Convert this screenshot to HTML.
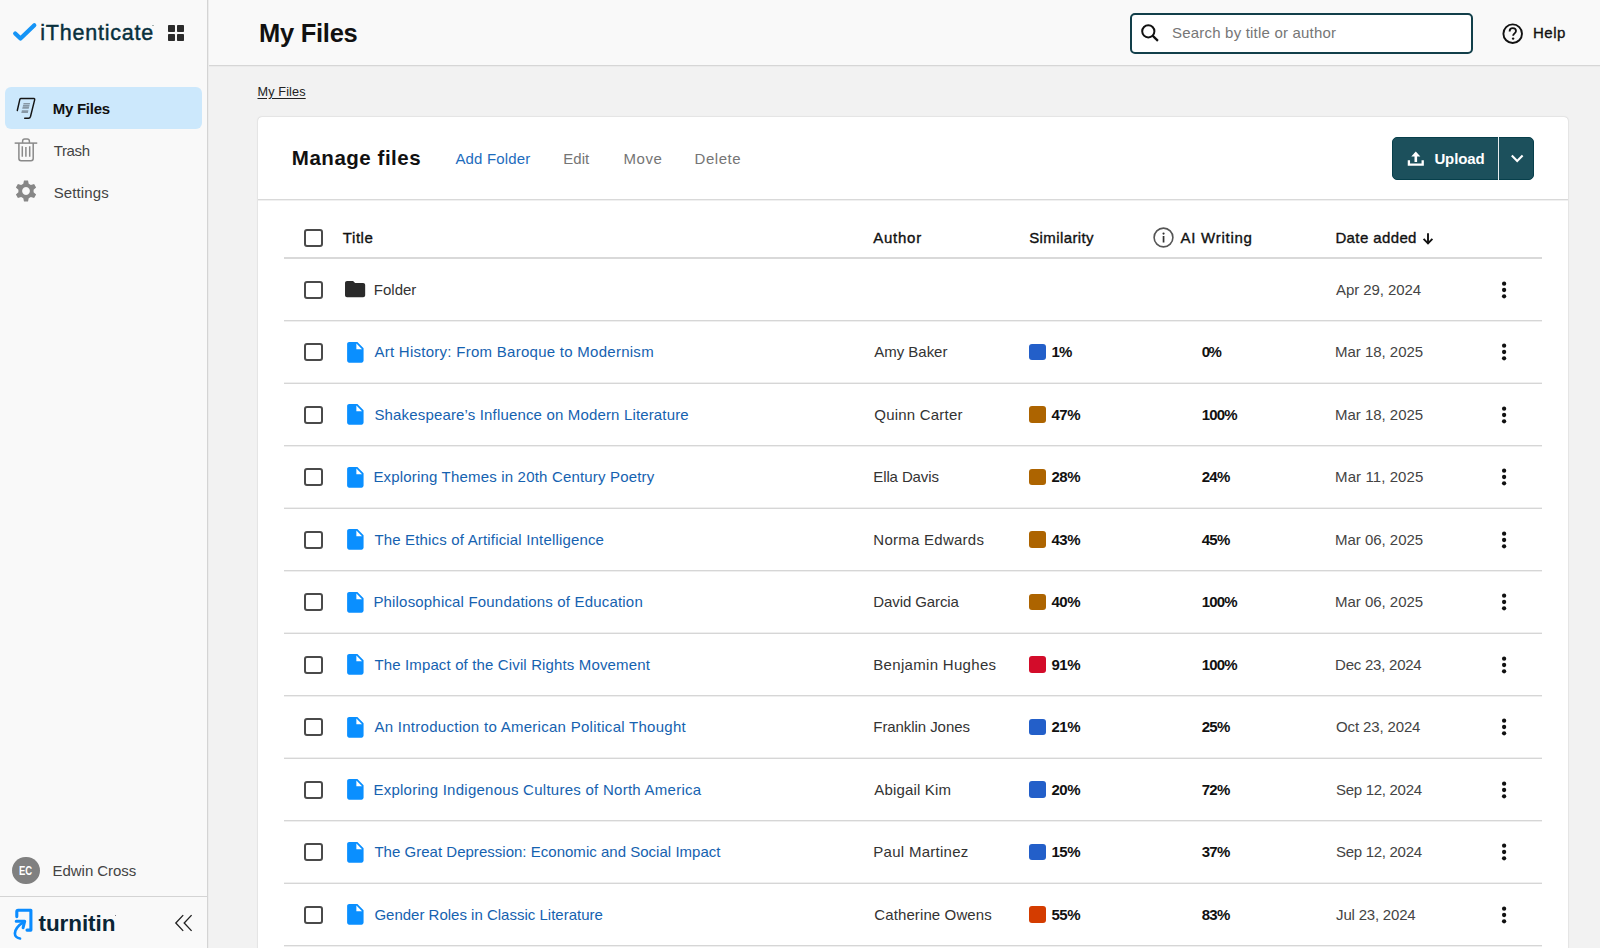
<!DOCTYPE html>
<html><head><meta charset="utf-8"><title>My Files</title>
<style>
html,body{margin:0;padding:0;}
body{width:1600px;height:948px;overflow:hidden;position:relative;background:#f2f2f2;font-family:"Liberation Sans",sans-serif;}
.t{position:absolute;white-space:nowrap;font-family:"Liberation Sans",sans-serif;}
</style></head><body>
<div style="position:absolute;left:0px;top:0px;width:207px;height:948px;background:#f9f9f9;"></div>
<div style="position:absolute;left:207px;top:0px;width:1px;height:948px;background:#d4d4d4;"></div>
<div style="position:absolute;left:208px;top:0px;width:1px;height:948px;background:#ececec;"></div>
<div style="position:absolute;left:209px;top:0px;width:1391px;height:65px;background:#f9f9f9;"></div>
<div style="position:absolute;left:209px;top:65px;width:1391px;height:1px;background:#d6d6d6;"></div>
<div style="position:absolute;left:209px;top:66px;width:1391px;height:1px;background:#ebebeb;"></div>
<div style="position:absolute;left:5px;top:87px;width:197px;height:42px;background:#cce8fc;border-radius:6px;"></div>
<div style="position:absolute;left:0px;top:896px;width:207px;height:1px;background:#d4d4d4;"></div>
<div style="position:absolute;left:258px;top:117px;width:1310px;height:900px;background:#fff;border-radius:4px;box-shadow:0 0 1.5px rgba(0,0,0,0.28);"></div>
<div style="position:absolute;left:258px;top:199px;width:1310px;height:1px;background:#d9d9d9;"></div>
<div style="position:absolute;left:258px;top:200px;width:1310px;height:1px;background:#f0f0f0;"></div>
<div style="position:absolute;left:284px;top:257px;width:1258px;height:2px;background:#d9d9d9;"></div>
<div style="position:absolute;left:284px;top:320px;width:1258px;height:1px;background:#d6d6d6;"></div>
<div style="position:absolute;left:284px;top:321px;width:1258px;height:1px;background:#efefef;"></div>
<div style="position:absolute;left:284px;top:383px;width:1258px;height:1px;background:#d6d6d6;"></div>
<div style="position:absolute;left:284px;top:382px;width:1258px;height:1px;background:#efefef;"></div>
<div style="position:absolute;left:284px;top:445px;width:1258px;height:1px;background:#d6d6d6;"></div>
<div style="position:absolute;left:284px;top:446px;width:1258px;height:1px;background:#efefef;"></div>
<div style="position:absolute;left:284px;top:508px;width:1258px;height:1px;background:#d6d6d6;"></div>
<div style="position:absolute;left:284px;top:507px;width:1258px;height:1px;background:#efefef;"></div>
<div style="position:absolute;left:284px;top:570px;width:1258px;height:1px;background:#d6d6d6;"></div>
<div style="position:absolute;left:284px;top:571px;width:1258px;height:1px;background:#efefef;"></div>
<div style="position:absolute;left:284px;top:633px;width:1258px;height:1px;background:#d6d6d6;"></div>
<div style="position:absolute;left:284px;top:632px;width:1258px;height:1px;background:#efefef;"></div>
<div style="position:absolute;left:284px;top:695px;width:1258px;height:1px;background:#d6d6d6;"></div>
<div style="position:absolute;left:284px;top:696px;width:1258px;height:1px;background:#efefef;"></div>
<div style="position:absolute;left:284px;top:758px;width:1258px;height:1px;background:#d6d6d6;"></div>
<div style="position:absolute;left:284px;top:757px;width:1258px;height:1px;background:#efefef;"></div>
<div style="position:absolute;left:284px;top:820px;width:1258px;height:1px;background:#d6d6d6;"></div>
<div style="position:absolute;left:284px;top:821px;width:1258px;height:1px;background:#efefef;"></div>
<div style="position:absolute;left:284px;top:883px;width:1258px;height:1px;background:#d6d6d6;"></div>
<div style="position:absolute;left:284px;top:882px;width:1258px;height:1px;background:#efefef;"></div>
<div style="position:absolute;left:284px;top:945px;width:1258px;height:1px;background:#d6d6d6;"></div>
<div style="position:absolute;left:284px;top:946px;width:1258px;height:1px;background:#efefef;"></div>
<div style="position:absolute;left:1130.2px;top:12.8px;width:343.3px;height:41px;box-sizing:border-box;border:2px solid #123f4a;border-radius:5px;background:#fff;"></div>
<div style="position:absolute;left:1392px;top:136.5px;width:142px;height:43.5px;box-sizing:border-box;background:#1c505c;border:1px solid #073f4b;border-radius:5px;"></div>
<div style="position:absolute;left:1497.5px;top:136.5px;width:1.2px;height:43.5px;background:#e8eef0;"></div>
<div style="position:absolute;left:304.4px;top:228.5px;width:18.3px;height:18.3px;box-sizing:border-box;border:2px solid #4a4a4a;border-radius:3px;background:#fff;"></div>
<div style="position:absolute;left:304.4px;top:280.5px;width:18.3px;height:18.3px;box-sizing:border-box;border:2px solid #4a4a4a;border-radius:3px;background:#fff;"></div>
<div style="position:absolute;left:304.4px;top:343px;width:18.3px;height:18.3px;box-sizing:border-box;border:2px solid #4a4a4a;border-radius:3px;background:#fff;"></div>
<div style="position:absolute;left:304.4px;top:405.5px;width:18.3px;height:18.3px;box-sizing:border-box;border:2px solid #4a4a4a;border-radius:3px;background:#fff;"></div>
<div style="position:absolute;left:304.4px;top:468px;width:18.3px;height:18.3px;box-sizing:border-box;border:2px solid #4a4a4a;border-radius:3px;background:#fff;"></div>
<div style="position:absolute;left:304.4px;top:530.5px;width:18.3px;height:18.3px;box-sizing:border-box;border:2px solid #4a4a4a;border-radius:3px;background:#fff;"></div>
<div style="position:absolute;left:304.4px;top:593px;width:18.3px;height:18.3px;box-sizing:border-box;border:2px solid #4a4a4a;border-radius:3px;background:#fff;"></div>
<div style="position:absolute;left:304.4px;top:655.5px;width:18.3px;height:18.3px;box-sizing:border-box;border:2px solid #4a4a4a;border-radius:3px;background:#fff;"></div>
<div style="position:absolute;left:304.4px;top:718px;width:18.3px;height:18.3px;box-sizing:border-box;border:2px solid #4a4a4a;border-radius:3px;background:#fff;"></div>
<div style="position:absolute;left:304.4px;top:780.5px;width:18.3px;height:18.3px;box-sizing:border-box;border:2px solid #4a4a4a;border-radius:3px;background:#fff;"></div>
<div style="position:absolute;left:304.4px;top:843px;width:18.3px;height:18.3px;box-sizing:border-box;border:2px solid #4a4a4a;border-radius:3px;background:#fff;"></div>
<div style="position:absolute;left:304.4px;top:905.5px;width:18.3px;height:18.3px;box-sizing:border-box;border:2px solid #4a4a4a;border-radius:3px;background:#fff;"></div>
<div style="position:absolute;left:1029.2px;top:343.9px;width:16.6px;height:16.6px;background:#235fc9;border-radius:3px;"></div>
<div style="position:absolute;left:1029.2px;top:406.4px;width:16.6px;height:16.6px;background:#ad6400;border-radius:3px;"></div>
<div style="position:absolute;left:1029.2px;top:468.9px;width:16.6px;height:16.6px;background:#ad6400;border-radius:3px;"></div>
<div style="position:absolute;left:1029.2px;top:531.4px;width:16.6px;height:16.6px;background:#ad6400;border-radius:3px;"></div>
<div style="position:absolute;left:1029.2px;top:593.9px;width:16.6px;height:16.6px;background:#ad6400;border-radius:3px;"></div>
<div style="position:absolute;left:1029.2px;top:656.4px;width:16.6px;height:16.6px;background:#d30c2a;border-radius:3px;"></div>
<div style="position:absolute;left:1029.2px;top:718.9px;width:16.6px;height:16.6px;background:#235fc9;border-radius:3px;"></div>
<div style="position:absolute;left:1029.2px;top:781.4px;width:16.6px;height:16.6px;background:#235fc9;border-radius:3px;"></div>
<div style="position:absolute;left:1029.2px;top:843.9px;width:16.6px;height:16.6px;background:#235fc9;border-radius:3px;"></div>
<div style="position:absolute;left:1029.2px;top:906.4px;width:16.6px;height:16.6px;background:#d43c00;border-radius:3px;"></div>
<svg style="position:absolute;left:1494px;top:277.8px" width="20" height="24" viewBox="0 0 20 24"><circle cx="10.1" cy="5.7" r="2.15" fill="#111"/><circle cx="10.1" cy="12" r="2.15" fill="#111"/><circle cx="10.1" cy="18.3" r="2.15" fill="#111"/></svg>
<svg style="position:absolute;left:1494px;top:340.3px" width="20" height="24" viewBox="0 0 20 24"><circle cx="10.1" cy="5.7" r="2.15" fill="#111"/><circle cx="10.1" cy="12" r="2.15" fill="#111"/><circle cx="10.1" cy="18.3" r="2.15" fill="#111"/></svg>
<svg style="position:absolute;left:1494px;top:402.8px" width="20" height="24" viewBox="0 0 20 24"><circle cx="10.1" cy="5.7" r="2.15" fill="#111"/><circle cx="10.1" cy="12" r="2.15" fill="#111"/><circle cx="10.1" cy="18.3" r="2.15" fill="#111"/></svg>
<svg style="position:absolute;left:1494px;top:465.3px" width="20" height="24" viewBox="0 0 20 24"><circle cx="10.1" cy="5.7" r="2.15" fill="#111"/><circle cx="10.1" cy="12" r="2.15" fill="#111"/><circle cx="10.1" cy="18.3" r="2.15" fill="#111"/></svg>
<svg style="position:absolute;left:1494px;top:527.8px" width="20" height="24" viewBox="0 0 20 24"><circle cx="10.1" cy="5.7" r="2.15" fill="#111"/><circle cx="10.1" cy="12" r="2.15" fill="#111"/><circle cx="10.1" cy="18.3" r="2.15" fill="#111"/></svg>
<svg style="position:absolute;left:1494px;top:590.3px" width="20" height="24" viewBox="0 0 20 24"><circle cx="10.1" cy="5.7" r="2.15" fill="#111"/><circle cx="10.1" cy="12" r="2.15" fill="#111"/><circle cx="10.1" cy="18.3" r="2.15" fill="#111"/></svg>
<svg style="position:absolute;left:1494px;top:652.8px" width="20" height="24" viewBox="0 0 20 24"><circle cx="10.1" cy="5.7" r="2.15" fill="#111"/><circle cx="10.1" cy="12" r="2.15" fill="#111"/><circle cx="10.1" cy="18.3" r="2.15" fill="#111"/></svg>
<svg style="position:absolute;left:1494px;top:715.3px" width="20" height="24" viewBox="0 0 20 24"><circle cx="10.1" cy="5.7" r="2.15" fill="#111"/><circle cx="10.1" cy="12" r="2.15" fill="#111"/><circle cx="10.1" cy="18.3" r="2.15" fill="#111"/></svg>
<svg style="position:absolute;left:1494px;top:777.8px" width="20" height="24" viewBox="0 0 20 24"><circle cx="10.1" cy="5.7" r="2.15" fill="#111"/><circle cx="10.1" cy="12" r="2.15" fill="#111"/><circle cx="10.1" cy="18.3" r="2.15" fill="#111"/></svg>
<svg style="position:absolute;left:1494px;top:840.3px" width="20" height="24" viewBox="0 0 20 24"><circle cx="10.1" cy="5.7" r="2.15" fill="#111"/><circle cx="10.1" cy="12" r="2.15" fill="#111"/><circle cx="10.1" cy="18.3" r="2.15" fill="#111"/></svg>
<svg style="position:absolute;left:1494px;top:902.8px" width="20" height="24" viewBox="0 0 20 24"><circle cx="10.1" cy="5.7" r="2.15" fill="#111"/><circle cx="10.1" cy="12" r="2.15" fill="#111"/><circle cx="10.1" cy="18.3" r="2.15" fill="#111"/></svg>
<svg style="position:absolute;left:342.88px;top:339.69px" width="24.7" height="24.7" viewBox="0 0 24 24"><path fill="#0a8fff" d="M6 2c-1.1 0-1.99.9-1.99 2L4 20c0 1.1.89 2 1.99 2H18c1.1 0 2-.9 2-2V8l-6-6H6zm7 7V3.5L18.5 9H13z"/></svg>
<svg style="position:absolute;left:342.88px;top:402.19px" width="24.7" height="24.7" viewBox="0 0 24 24"><path fill="#0a8fff" d="M6 2c-1.1 0-1.99.9-1.99 2L4 20c0 1.1.89 2 1.99 2H18c1.1 0 2-.9 2-2V8l-6-6H6zm7 7V3.5L18.5 9H13z"/></svg>
<svg style="position:absolute;left:342.88px;top:464.69px" width="24.7" height="24.7" viewBox="0 0 24 24"><path fill="#0a8fff" d="M6 2c-1.1 0-1.99.9-1.99 2L4 20c0 1.1.89 2 1.99 2H18c1.1 0 2-.9 2-2V8l-6-6H6zm7 7V3.5L18.5 9H13z"/></svg>
<svg style="position:absolute;left:342.88px;top:527.19px" width="24.7" height="24.7" viewBox="0 0 24 24"><path fill="#0a8fff" d="M6 2c-1.1 0-1.99.9-1.99 2L4 20c0 1.1.89 2 1.99 2H18c1.1 0 2-.9 2-2V8l-6-6H6zm7 7V3.5L18.5 9H13z"/></svg>
<svg style="position:absolute;left:342.88px;top:589.69px" width="24.7" height="24.7" viewBox="0 0 24 24"><path fill="#0a8fff" d="M6 2c-1.1 0-1.99.9-1.99 2L4 20c0 1.1.89 2 1.99 2H18c1.1 0 2-.9 2-2V8l-6-6H6zm7 7V3.5L18.5 9H13z"/></svg>
<svg style="position:absolute;left:342.88px;top:652.19px" width="24.7" height="24.7" viewBox="0 0 24 24"><path fill="#0a8fff" d="M6 2c-1.1 0-1.99.9-1.99 2L4 20c0 1.1.89 2 1.99 2H18c1.1 0 2-.9 2-2V8l-6-6H6zm7 7V3.5L18.5 9H13z"/></svg>
<svg style="position:absolute;left:342.88px;top:714.69px" width="24.7" height="24.7" viewBox="0 0 24 24"><path fill="#0a8fff" d="M6 2c-1.1 0-1.99.9-1.99 2L4 20c0 1.1.89 2 1.99 2H18c1.1 0 2-.9 2-2V8l-6-6H6zm7 7V3.5L18.5 9H13z"/></svg>
<svg style="position:absolute;left:342.88px;top:777.19px" width="24.7" height="24.7" viewBox="0 0 24 24"><path fill="#0a8fff" d="M6 2c-1.1 0-1.99.9-1.99 2L4 20c0 1.1.89 2 1.99 2H18c1.1 0 2-.9 2-2V8l-6-6H6zm7 7V3.5L18.5 9H13z"/></svg>
<svg style="position:absolute;left:342.88px;top:839.69px" width="24.7" height="24.7" viewBox="0 0 24 24"><path fill="#0a8fff" d="M6 2c-1.1 0-1.99.9-1.99 2L4 20c0 1.1.89 2 1.99 2H18c1.1 0 2-.9 2-2V8l-6-6H6zm7 7V3.5L18.5 9H13z"/></svg>
<svg style="position:absolute;left:342.88px;top:902.19px" width="24.7" height="24.7" viewBox="0 0 24 24"><path fill="#0a8fff" d="M6 2c-1.1 0-1.99.9-1.99 2L4 20c0 1.1.89 2 1.99 2H18c1.1 0 2-.9 2-2V8l-6-6H6zm7 7V3.5L18.5 9H13z"/></svg>
<svg style="position:absolute;left:342.98px;top:277.46px" width="24.2" height="24.2" viewBox="0 0 24 24"><path fill="#2a2a2a" d="M10 4H4c-1.1 0-1.99.9-1.99 2L2 18c0 1.1.9 2 2 2h16c1.1 0 2-.9 2-2V8c0-1.1-.9-2-2-2h-8l-2-2z"/></svg>
<svg style="position:absolute;left:1152.9px;top:227.3px" width="21" height="21" viewBox="0 0 21 21"><circle cx="10.5" cy="10.5" r="9.4" fill="none" stroke="#555" stroke-width="1.6"/><rect x="9.7" y="9" width="1.7" height="6.5" fill="#333"/><circle cx="10.55" cy="6.6" r="1.1" fill="#333"/></svg>
<svg style="position:absolute;left:1422px;top:231.5px" width="12" height="13" viewBox="0 0 12 13"><path d="M6 1.2V11" stroke="#111" stroke-width="1.9" fill="none"/><path d="M1.6 6.8L6 11.3L10.4 6.8" stroke="#111" stroke-width="1.9" fill="none"/></svg>
<svg style="position:absolute;left:1140px;top:23px" width="21" height="21" viewBox="0 0 21 21"><circle cx="8.3" cy="8.3" r="6.1" fill="none" stroke="#111" stroke-width="2"/><path d="M12.6 12.6L17.9 17.9" stroke="#111" stroke-width="2.2" stroke-linecap="butt"/></svg>
<svg style="position:absolute;left:1502px;top:22.5px" width="22" height="22" viewBox="0 0 22 22"><circle cx="10.7" cy="10.7" r="9.3" fill="none" stroke="#111" stroke-width="1.9"/><path d="M7.6 8.4c0-2 1.4-3.2 3.2-3.2s3.2 1.2 3.2 2.9c0 2.2-2.9 2.3-2.9 4.6" fill="none" stroke="#111" stroke-width="1.8"/><circle cx="11.1" cy="15.6" r="1.2" fill="#111"/></svg>
<svg style="position:absolute;left:1407px;top:148.5px" width="18" height="18" viewBox="0 0 18 18"><path d="M8.8 13V4" stroke="#fff" stroke-width="2.6" fill="none"/><path d="M4.3 7.6L8.8 2.4L13.3 7.6Z" fill="#fff"/><path d="M1.9 11.3V15.6H15.7V11.3" stroke="#fff" stroke-width="2.3" fill="none"/></svg>
<svg style="position:absolute;left:1509.5px;top:153px" width="15" height="11" viewBox="0 0 15 11"><path d="M1.8 2.5L7.2 8L12.6 2.5" stroke="#fff" stroke-width="2.1" fill="none"/></svg>
<svg style="position:absolute;left:12px;top:22px" width="26" height="21" viewBox="0 0 26 21"><path d="M3.2 11.4L8.5 16.6L22.3 3.2" stroke="#1594f6" stroke-width="4.2" fill="none" stroke-linecap="round" stroke-linejoin="round"/></svg>
<div style="position:absolute;left:152.4px;top:24.6px;width:1.6px;height:1.6px;background:#9aa;border-radius:50%;"></div>
<div style="position:absolute;left:168px;top:25.2px;width:7.3px;height:7.3px;background:#2b2b2b;border-radius:0.8px;"></div>
<div style="position:absolute;left:168px;top:34px;width:7.3px;height:7.3px;background:#2b2b2b;border-radius:0.8px;"></div>
<div style="position:absolute;left:176.8px;top:25.2px;width:7.3px;height:7.3px;background:#2b2b2b;border-radius:0.8px;"></div>
<div style="position:absolute;left:176.8px;top:34px;width:7.3px;height:7.3px;background:#2b2b2b;border-radius:0.8px;"></div>
<svg style="position:absolute;left:12px;top:94px" width="30" height="28" viewBox="0 0 30 28"><path d="M5.3 16.5L7.9 5.2Q8.2 4.4 9 4.4L22 4.4Q22.9 4.6 22.7 5.6L18.5 22.5Q18 24.2 16.5 24.2L12.7 24.2" stroke="#151515" stroke-width="1.45" fill="none" stroke-linecap="round" stroke-linejoin="round"/><path d="M11.6 8.9H18.1L17.7 10.6H11.2Z M11.1 11H17.6L17.2 12.7H10.7Z M10.6 13.1H17.1L16.7 14.8H10.2Z M9.9 16.3H16.4L15.9 18.9H9.3Z" fill="#8798a6"/></svg>
<svg style="position:absolute;left:12px;top:136px" width="28" height="28" viewBox="0 0 28 28"><path d="M2.66 7.1H25.25" stroke="#8a8a8a" stroke-width="1.5"/><path d="M10.6 7.1V5.3Q10.6 3.1 12.8 3.1H15.2Q17.4 3.1 17.4 5.3V7.1" stroke="#8a8a8a" stroke-width="1.5" fill="none"/><path d="M6.9 7.1V22.6Q6.9 24.8 9.1 24.8H19Q21.2 24.8 21.2 22.6V7.1" stroke="#8a8a8a" stroke-width="1.5" fill="none"/><path d="M10.3 10.2V20.8M13.9 10.9V20.8M17.7 10.2V20.8" stroke="#8a8a8a" stroke-width="1.5"/></svg>
<svg style="position:absolute;left:12px;top:177.3px" width="28" height="28" viewBox="0 0 28 28"><path fill-rule="evenodd" fill="#878787" d="M11.29 6.79 L11.98 3.49 L16.02 3.49 L16.71 6.79 L18.88 8.05 L22.09 7.00 L24.11 10.50 L21.60 12.75 L21.60 15.25 L24.11 17.50 L22.09 21.00 L18.88 19.95 L16.71 21.21 L16.02 24.51 L11.98 24.51 L11.29 21.21 L9.12 19.95 L5.91 21.00 L3.89 17.50 L6.40 15.25 L6.40 12.75 L3.89 10.50 L5.91 7.00 L9.12 8.05Z M14 10.1a3.9 3.9 0 1 0 0.001 0Z"/></svg>
<div style="position:absolute;left:12.4px;top:856.6px;width:27.2px;height:27.2px;background:#808080;border-radius:50%;"></div>
<svg style="position:absolute;left:10px;top:905px" width="30" height="40" viewBox="0 0 30 40"><path d="M6.8 11.6V6.6Q6.8 5.2 8.2 5.2H20.9V25.1H17" stroke="#0b8cff" stroke-width="3.1" fill="none" stroke-linecap="round" stroke-linejoin="round"/><path d="M6.2 16.2H14.7L13.1 22.7" stroke="#0b8cff" stroke-width="3" fill="none" stroke-linecap="round" stroke-linejoin="round"/><path d="M13.9 16.9C8.6 20.2 5.1 24.5 4.9 28.4C4.8 31.2 7.2 33.2 10 33.5" stroke="#0b8cff" stroke-width="2.7" fill="none" stroke-linecap="round"/></svg>
<div style="position:absolute;left:114.5px;top:914.5px;width:1.3px;height:1.3px;background:#556;border-radius:50%;"></div>
<svg style="position:absolute;left:174px;top:913px" width="20" height="20" viewBox="0 0 20 20"><path d="M9.2 2.1L1.8 10L9.2 17.9M17.6 2.1L10.2 10L17.6 17.9" stroke="#222" stroke-width="1.35" fill="none"/></svg>
<div class="t" style="left:40.2px;top:23.3px;font-size:21.5px;line-height:21.5px;font-weight:400;color:#08303d;letter-spacing:0.79px;-webkit-text-stroke:0.45px #08303d;">iThenticate</div>
<div class="t" style="left:52.7px;top:101px;font-size:15px;line-height:15px;font-weight:700;color:#111;letter-spacing:-0.25px;">My Files</div>
<div class="t" style="left:53.7px;top:143px;font-size:15px;line-height:15px;font-weight:400;color:#444;letter-spacing:-0.34px;">Trash</div>
<div class="t" style="left:53.7px;top:184.6px;font-size:15px;line-height:15px;font-weight:400;color:#444;letter-spacing:0.11px;">Settings</div>
<div class="t" style="left:18.6px;top:863.5px;font-size:13px;line-height:13px;font-weight:700;color:#fff;transform:scaleX(0.7284);transform-origin:0 0;">EC</div>
<div class="t" style="left:52.6px;top:863.1px;font-size:15px;line-height:15px;font-weight:400;color:#444;letter-spacing:-0.05px;">Edwin Cross</div>
<div class="t" style="left:38.5px;top:913.3px;font-size:22.5px;line-height:22.5px;font-weight:700;color:#0a2535;letter-spacing:-0.08px;">turnitin</div>
<div class="t" style="left:259px;top:20.5px;font-size:25.5px;line-height:25.5px;font-weight:700;color:#111;letter-spacing:-0.26px;">My Files</div>
<div class="t" style="left:1172px;top:25.3px;font-size:15px;line-height:15px;font-weight:400;color:#767676;letter-spacing:0.2px;">Search by title or author</div>
<div class="t" style="left:1533px;top:25px;font-size:15px;line-height:15px;font-weight:400;color:#111;letter-spacing:0.5px;-webkit-text-stroke:0.35px #111;">Help</div>
<div class="t" style="left:257.5px;top:85.5px;font-size:12.7px;line-height:12.7px;font-weight:400;color:#222;letter-spacing:0.12px;text-decoration:underline;text-underline-offset:2px;">My Files</div>
<div class="t" style="left:291.8px;top:148.2px;font-size:20.5px;line-height:20.5px;font-weight:700;color:#111;letter-spacing:0.53px;">Manage files</div>
<div class="t" style="left:455.4px;top:150.6px;font-size:15px;line-height:15px;font-weight:400;color:#1d6cbd;letter-spacing:0.16px;">Add Folder</div>
<div class="t" style="left:563.3px;top:150.7px;font-size:15px;line-height:15px;font-weight:400;color:#757575;letter-spacing:0.04px;">Edit</div>
<div class="t" style="left:623.5px;top:150.7px;font-size:15px;line-height:15px;font-weight:400;color:#757575;letter-spacing:0.59px;">Move</div>
<div class="t" style="left:694.6px;top:150.7px;font-size:15px;line-height:15px;font-weight:400;color:#757575;letter-spacing:0.54px;">Delete</div>
<div class="t" style="left:1434.4px;top:150.5px;font-size:15px;line-height:15px;font-weight:700;color:#fff;letter-spacing:-0.13px;">Upload</div>
<div class="t" style="left:342.8px;top:229.8px;font-size:15px;line-height:15px;font-weight:400;color:#111;letter-spacing:0.57px;-webkit-text-stroke:0.35px #111;">Title</div>
<div class="t" style="left:873.2px;top:229.8px;font-size:15px;line-height:15px;font-weight:400;color:#111;letter-spacing:0.76px;-webkit-text-stroke:0.35px #111;">Author</div>
<div class="t" style="left:1029.2px;top:229.8px;font-size:15px;line-height:15px;font-weight:400;color:#111;letter-spacing:0.4px;-webkit-text-stroke:0.35px #111;">Similarity</div>
<div class="t" style="left:1180.6px;top:229.8px;font-size:15px;line-height:15px;font-weight:400;color:#111;letter-spacing:0.73px;-webkit-text-stroke:0.35px #111;">AI Writing</div>
<div class="t" style="left:1335.4px;top:229.8px;font-size:15px;line-height:15px;font-weight:400;color:#111;letter-spacing:0.39px;-webkit-text-stroke:0.35px #111;">Date added</div>
<div class="t" style="left:373.8px;top:281.8px;font-size:15px;line-height:15px;font-weight:400;color:#333;letter-spacing:0px;">Folder</div>
<div class="t" style="left:1336.1px;top:281.8px;font-size:15px;line-height:15px;font-weight:400;color:#444;letter-spacing:-0.08px;">Apr 29, 2024</div>
<div class="t" style="left:374.4px;top:344.3px;font-size:15px;line-height:15px;font-weight:400;color:#1562b0;letter-spacing:0.27px;">Art History: From Baroque to Modernism</div>
<div class="t" style="left:874.3px;top:344.3px;font-size:15px;line-height:15px;font-weight:400;color:#333;letter-spacing:-0.03px;">Amy Baker</div>
<div class="t" style="left:1051.5px;top:344.3px;font-size:15px;line-height:15px;font-weight:700;color:#111;letter-spacing:-0.95px;">1%</div>
<div class="t" style="left:1201.8px;top:344.3px;font-size:15px;line-height:15px;font-weight:700;color:#111;letter-spacing:-1.55px;">0%</div>
<div class="t" style="left:1335.1px;top:344.3px;font-size:15px;line-height:15px;font-weight:400;color:#444;letter-spacing:-0.03px;">Mar 18, 2025</div>
<div class="t" style="left:374.4px;top:406.8px;font-size:15px;line-height:15px;font-weight:400;color:#1562b0;letter-spacing:0.16px;">Shakespeare’s Influence on Modern Literature</div>
<div class="t" style="left:874.3px;top:406.8px;font-size:15px;line-height:15px;font-weight:400;color:#333;letter-spacing:0.21px;">Quinn Carter</div>
<div class="t" style="left:1051.5px;top:406.8px;font-size:15px;line-height:15px;font-weight:700;color:#111;letter-spacing:-0.5px;">47%</div>
<div class="t" style="left:1201.8px;top:406.8px;font-size:15px;line-height:15px;font-weight:700;color:#111;letter-spacing:-0.88px;">100%</div>
<div class="t" style="left:1335.1px;top:406.8px;font-size:15px;line-height:15px;font-weight:400;color:#444;letter-spacing:-0.03px;">Mar 18, 2025</div>
<div class="t" style="left:373.4px;top:469.3px;font-size:15px;line-height:15px;font-weight:400;color:#1562b0;letter-spacing:0.18px;">Exploring Themes in 20th Century Poetry</div>
<div class="t" style="left:873.3px;top:469.3px;font-size:15px;line-height:15px;font-weight:400;color:#333;letter-spacing:-0.12px;">Ella Davis</div>
<div class="t" style="left:1051.5px;top:469.3px;font-size:15px;line-height:15px;font-weight:700;color:#111;letter-spacing:-0.5px;">28%</div>
<div class="t" style="left:1201.8px;top:469.3px;font-size:15px;line-height:15px;font-weight:700;color:#111;letter-spacing:-0.8px;">24%</div>
<div class="t" style="left:1335.1px;top:469.3px;font-size:15px;line-height:15px;font-weight:400;color:#444;letter-spacing:0.08px;">Mar 11, 2025</div>
<div class="t" style="left:374.4px;top:531.8px;font-size:15px;line-height:15px;font-weight:400;color:#1562b0;letter-spacing:0.17px;">The Ethics of Artificial Intelligence</div>
<div class="t" style="left:873.3px;top:531.8px;font-size:15px;line-height:15px;font-weight:400;color:#333;letter-spacing:0.26px;">Norma Edwards</div>
<div class="t" style="left:1051.5px;top:531.8px;font-size:15px;line-height:15px;font-weight:700;color:#111;letter-spacing:-0.5px;">43%</div>
<div class="t" style="left:1201.8px;top:531.8px;font-size:15px;line-height:15px;font-weight:700;color:#111;letter-spacing:-0.8px;">45%</div>
<div class="t" style="left:1335.1px;top:531.8px;font-size:15px;line-height:15px;font-weight:400;color:#444;letter-spacing:-0.03px;">Mar 06, 2025</div>
<div class="t" style="left:373.4px;top:594.3px;font-size:15px;line-height:15px;font-weight:400;color:#1562b0;letter-spacing:0.18px;">Philosophical Foundations of Education</div>
<div class="t" style="left:873.3px;top:594.3px;font-size:15px;line-height:15px;font-weight:400;color:#333;letter-spacing:-0.1px;">David Garcia</div>
<div class="t" style="left:1051.5px;top:594.3px;font-size:15px;line-height:15px;font-weight:700;color:#111;letter-spacing:-0.5px;">40%</div>
<div class="t" style="left:1201.8px;top:594.3px;font-size:15px;line-height:15px;font-weight:700;color:#111;letter-spacing:-0.88px;">100%</div>
<div class="t" style="left:1335.1px;top:594.3px;font-size:15px;line-height:15px;font-weight:400;color:#444;letter-spacing:-0.03px;">Mar 06, 2025</div>
<div class="t" style="left:374.4px;top:656.8px;font-size:15px;line-height:15px;font-weight:400;color:#1562b0;letter-spacing:0.14px;">The Impact of the Civil Rights Movement</div>
<div class="t" style="left:873.3px;top:656.8px;font-size:15px;line-height:15px;font-weight:400;color:#333;letter-spacing:0.31px;">Benjamin Hughes</div>
<div class="t" style="left:1051.5px;top:656.8px;font-size:15px;line-height:15px;font-weight:700;color:#111;letter-spacing:-0.5px;">91%</div>
<div class="t" style="left:1201.8px;top:656.8px;font-size:15px;line-height:15px;font-weight:700;color:#111;letter-spacing:-0.88px;">100%</div>
<div class="t" style="left:1335.1px;top:656.8px;font-size:15px;line-height:15px;font-weight:400;color:#444;letter-spacing:-0.24px;">Dec 23, 2024</div>
<div class="t" style="left:374.4px;top:719.3px;font-size:15px;line-height:15px;font-weight:400;color:#1562b0;letter-spacing:0.28px;">An Introduction to American Political Thought</div>
<div class="t" style="left:873.3px;top:719.3px;font-size:15px;line-height:15px;font-weight:400;color:#333;letter-spacing:-0.07px;">Franklin Jones</div>
<div class="t" style="left:1051.5px;top:719.3px;font-size:15px;line-height:15px;font-weight:700;color:#111;letter-spacing:-0.5px;">21%</div>
<div class="t" style="left:1201.8px;top:719.3px;font-size:15px;line-height:15px;font-weight:700;color:#111;letter-spacing:-0.8px;">25%</div>
<div class="t" style="left:1336.1px;top:719.3px;font-size:15px;line-height:15px;font-weight:400;color:#444;letter-spacing:-0.14px;">Oct 23, 2024</div>
<div class="t" style="left:373.4px;top:781.8px;font-size:15px;line-height:15px;font-weight:400;color:#1562b0;letter-spacing:0.26px;">Exploring Indigenous Cultures of North America</div>
<div class="t" style="left:874.3px;top:781.8px;font-size:15px;line-height:15px;font-weight:400;color:#333;letter-spacing:0.17px;">Abigail Kim</div>
<div class="t" style="left:1051.5px;top:781.8px;font-size:15px;line-height:15px;font-weight:700;color:#111;letter-spacing:-0.5px;">20%</div>
<div class="t" style="left:1201.8px;top:781.8px;font-size:15px;line-height:15px;font-weight:700;color:#111;letter-spacing:-0.8px;">72%</div>
<div class="t" style="left:1336.1px;top:781.8px;font-size:15px;line-height:15px;font-weight:400;color:#444;letter-spacing:-0.3px;">Sep 12, 2024</div>
<div class="t" style="left:374.4px;top:844.3px;font-size:15px;line-height:15px;font-weight:400;color:#1562b0;letter-spacing:0.02px;">The Great Depression: Economic and Social Impact</div>
<div class="t" style="left:873.3px;top:844.3px;font-size:15px;line-height:15px;font-weight:400;color:#333;letter-spacing:0.28px;">Paul Martinez</div>
<div class="t" style="left:1051.5px;top:844.3px;font-size:15px;line-height:15px;font-weight:700;color:#111;letter-spacing:-0.5px;">15%</div>
<div class="t" style="left:1201.8px;top:844.3px;font-size:15px;line-height:15px;font-weight:700;color:#111;letter-spacing:-0.8px;">37%</div>
<div class="t" style="left:1336.1px;top:844.3px;font-size:15px;line-height:15px;font-weight:400;color:#444;letter-spacing:-0.3px;">Sep 12, 2024</div>
<div class="t" style="left:374.4px;top:906.8px;font-size:15px;line-height:15px;font-weight:400;color:#1562b0;letter-spacing:0px;">Gender Roles in Classic Literature</div>
<div class="t" style="left:874.3px;top:906.8px;font-size:15px;line-height:15px;font-weight:400;color:#333;letter-spacing:0.11px;">Catherine Owens</div>
<div class="t" style="left:1051.5px;top:906.8px;font-size:15px;line-height:15px;font-weight:700;color:#111;letter-spacing:-0.5px;">55%</div>
<div class="t" style="left:1201.8px;top:906.8px;font-size:15px;line-height:15px;font-weight:700;color:#111;letter-spacing:-0.8px;">83%</div>
<div class="t" style="left:1336.1px;top:906.8px;font-size:15px;line-height:15px;font-weight:400;color:#444;letter-spacing:-0.2px;">Jul 23, 2024</div>
</body></html>
